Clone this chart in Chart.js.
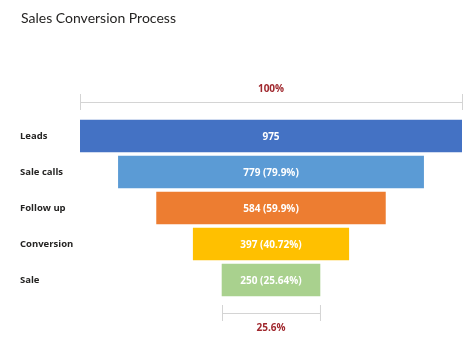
<!DOCTYPE html>
<html>
<head>
<meta charset="utf-8">
<script src="https://cdn.jsdelivr.net/npm/chart.js@4.4.0/dist/chart.umd.min.js"></script>
<style>
  html, body { margin: 0; padding: 0; background: #ffffff; }
  #wrap { position: relative; width: 474px; height: 346px; }
</style>
</head>
<body>
<div id="wrap"><canvas id="c" width="474" height="346"></canvas></div>
<script>
const chartTitle = "Sales Conversion Process";
const categories = ["Leads", "Sale calls", "Follow up", "Conversion", "Sale"];
const values = [975, 779, 584, 397, 250];
const valueLabels = ["975", "779 (79.9%)", "584 (59.9%)", "397 (40.72%)", "250 (25.64%)"];
const topLabel = "100%";
const bottomLabel = "25.6%";
const colors = ["#4472C4", "#5B9BD5", "#ED7D31", "#FFC000", "#A9D18E"];

const maxVal = values[0];
const floating = values.map(v => [(maxVal - v) / 2, (maxVal + v) / 2]);

const funnelPlugin = {
  id: 'funnelExtras',
  afterDatasetsDraw(chart) {
    const ctx = chart.ctx;
    const meta = chart.getDatasetMeta(0);
    const xs = chart.scales.x;
    ctx.save();
    ctx.fillStyle = '#ffffff';
    ctx.font = 'bold 10px "Open Sans", sans-serif';
    ctx.textAlign = 'center';
    ctx.textBaseline = 'middle';
    meta.data.forEach((bar, i) => {
      const cx = (bar.x + bar.base) / 2;
      ctx.fillText(valueLabels[i], cx, bar.y + 1);
    });
    const drawBracket = (x1, x2, y) => {
      ctx.strokeStyle = '#d4d4d4';
      ctx.lineWidth = 1;
      ctx.beginPath();
      ctx.moveTo(x1 + 0.5, y + 0.5); ctx.lineTo(x2 + 0.5, y + 0.5);
      ctx.moveTo(x1 + 0.5, y - 8); ctx.lineTo(x1 + 0.5, y + 8);
      ctx.moveTo(x2 + 0.5, y - 8); ctx.lineTo(x2 + 0.5, y + 8);
      ctx.stroke();
    };
    const first = meta.data[0];
    const last = meta.data[meta.data.length - 1];
    const fTop = first.y - first.height / 2;
    const lBot = last.y + last.height / 2;
    const fx1 = xs.getPixelForValue(floating[0][0]);
    const fx2 = xs.getPixelForValue(floating[0][1]);
    const lx1 = xs.getPixelForValue(floating[floating.length - 1][0]);
    const lx2 = xs.getPixelForValue(floating[floating.length - 1][1]);
    drawBracket(fx1, fx2, fTop - 18);
    drawBracket(lx1, lx2, lBot + 17);
    ctx.fillStyle = '#A0282E';
    ctx.font = 'bold 10px "Open Sans", sans-serif';
    ctx.fillText(topLabel, (fx1 + fx2) / 2, fTop - 31);
    ctx.fillText(bottomLabel, (lx1 + lx2) / 2, lBot + 32);
    ctx.fillStyle = '#252423';
    ctx.font = '14px "Lato", sans-serif';
    ctx.textAlign = 'left';
    ctx.fillText(chartTitle, 21, 18);
    ctx.restore();
  }
};

new Chart(document.getElementById('c'), {
  type: 'bar',
  data: {
    labels: categories,
    datasets: [{
      data: floating,
      backgroundColor: colors,
      borderWidth: 0,
      barThickness: 32
    }]
  },
  options: {
    indexAxis: 'y',
    responsive: false,
    animation: false,
    layout: { padding: { left: 20, right: 12, top: 118, bottom: 48 } },
    plugins: {
      legend: { display: false },
      tooltip: { enabled: false },
      title: { display: false }
    },
    scales: {
      x: { display: false, min: 0, max: maxVal },
      y: {
        grid: { display: false, drawTicks: false },
        border: { display: false },
        afterFit(scale) { scale.width = 60; },
        ticks: {
          crossAlign: 'far',
          color: '#252423',
          font: { family: '"Open Sans", sans-serif', size: 9.5, weight: 'bold' },
          padding: 0
        }
      }
    }
  },
  plugins: [funnelPlugin]
});
</script>
</body>
</html>
